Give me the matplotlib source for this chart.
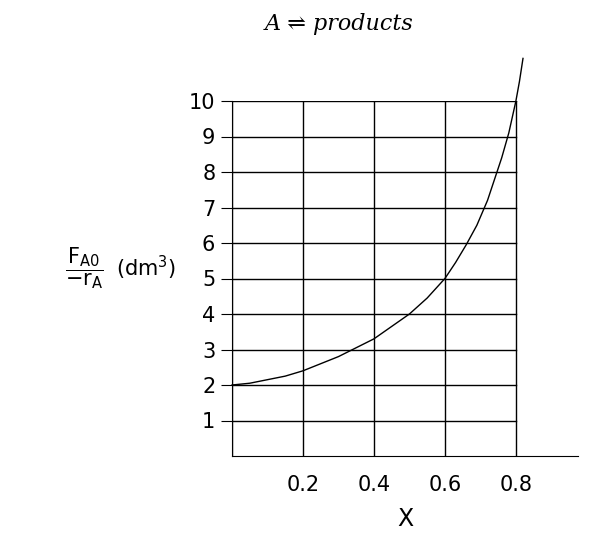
import matplotlib
matplotlib.use("Agg")
import matplotlib.pyplot as plt
import numpy as np

conv = [0.0, 0.05, 0.1, 0.15, 0.2, 0.25, 0.3, 0.35, 0.4, 0.45, 0.5, 0.55, 0.6,
        0.63, 0.66, 0.69, 0.72, 0.74, 0.76, 0.78, 0.8, 0.81, 0.82]
fa0_ra = [2.0, 2.05, 2.15, 2.25, 2.4, 2.6, 2.8, 3.05, 3.3, 3.65, 4.0, 4.45, 5.0,
          5.45, 5.95, 6.5, 7.2, 7.8, 8.4, 9.1, 10.0, 10.55, 11.2]
xticks = [0.2, 0.4, 0.6, 0.8]
yticks = list(range(1, 11))

fig = plt.figure(figsize=(6, 5.47), dpi=100)
ax = fig.add_axes([232/600, 1-456/547, (578-232)/600, (456-101)/547])
ax.set_xlim(0, 0.975)
ax.set_ylim(0, 10)
for t in [0.0] + xticks:
    ax.plot([t, t], [0, 10], color='black', lw=1)
for t in yticks:
    ax.plot([0, 0.8], [t, t], color='black', lw=1)
ax.plot(conv, fa0_ra, color='black', lw=1, clip_on=False)
for s in ['top', 'right']:
    ax.spines[s].set_visible(False)
ax.set_xticks(xticks)
ax.set_yticks(yticks)
ax.set_xticklabels([f"{t:.1f}" for t in xticks], fontsize=15)
ax.set_yticklabels([str(t) for t in yticks], fontsize=15)
ax.tick_params(axis='x', length=0, pad=14)
ax.tick_params(axis='y', direction='out', length=8, pad=4)
ax.set_xlabel("X", fontsize=17, labelpad=8)
fig.text(65/600, 1-268/547, r'$\dfrac{\mathrm{F_{A0}}}{\mathrm{-r_A}}$', fontsize=15, va='center')
fig.text(116/600, 1-268/547, r'(dm$^3$)', fontsize=15, va='center')
fig.text(0.565, 1-24/547, "A ⇌ products", fontsize=16, ha='center', va='center',
         family='DejaVu Serif', style='italic')
fig.savefig("out.png", dpi=100)
